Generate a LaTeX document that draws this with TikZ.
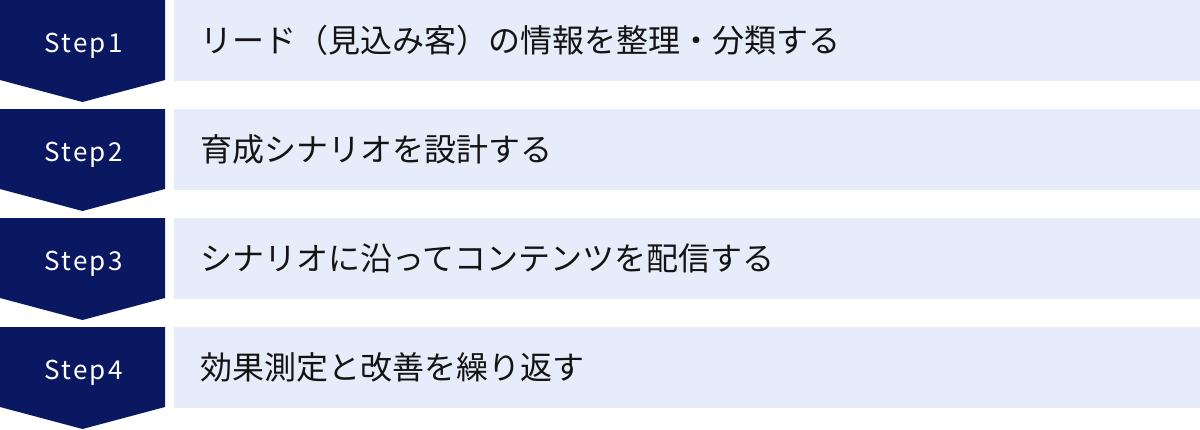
\documentclass[tikz,border=0pt]{standalone}
\usepackage{fontspec}
\setmainfont{Noto Sans CJK JP}
\newfontfamily\jpfont{Noto Sans CJK JP}
\newfontfamily\stepfont[LetterSpace=9]{Noto Sans CJK JP}
\definecolor{navy}{RGB}{10,24,98}
\definecolor{lightbg}{RGB}{230,236,249}
\definecolor{txt}{RGB}{20,20,20}
\tikzset{
  chev/.style={fill=navy,draw=none},
  band/.style={fill=lightbg,draw=none},
  steplabel/.style={text=white,font=\stepfont\fontsize{26}{26}\selectfont,inner sep=0pt,anchor=base},
  desc/.style={text=txt,font=\jpfont\fontsize{32}{32}\selectfont,inner sep=0pt,anchor=west}
}
\begin{document}
\begin{tikzpicture}[x=1pt,y=-1pt]
\useasboundingbox (0,0) rectangle (1200,429);
\foreach \i/\t in {1/{リード（見込み客）の情報を整理・分類する},2/{育成シナリオを設計する},3/{シナリオに沿ってコンテンツを配信する},4/{効果測定と改善を繰り返す}}{
  \pgfmathsetmacro{\top}{(\i-1)*109}
  \fill[chev] (0,\top) -- (165,\top) -- (165,\top+80) -- (82.5,\top+102) -- (0,\top+80) -- cycle;
  \fill[band] (174,\top) rectangle (1200,\top+80.5);
  \node[steplabel] (s\i) at (83.5,\top+52) {Step\i};
  \node[desc] (d\i) at (200,\top+40) {\t};
}
\end{tikzpicture}
\end{document}
